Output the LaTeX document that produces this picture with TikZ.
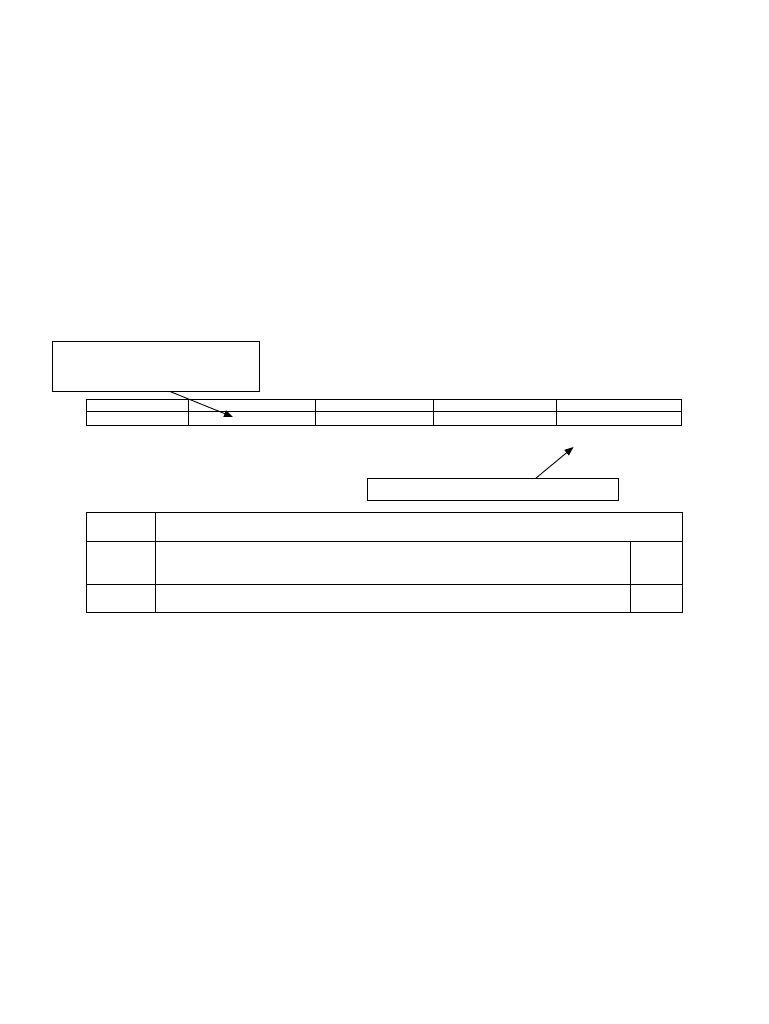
\documentclass[tikz,border=0pt]{standalone}
\usetikzlibrary{fit,arrows.meta}
\begin{document}
\begin{tikzpicture}[x=1pt,y=-1pt,
  cell/.style={draw=black, line width=0.9pt, inner sep=0pt, outer sep=0pt},
  callout/.style={draw=black, line width=0.9pt, -{Triangle[length=9pt,width=7pt]}}]
\useasboundingbox (0,0) rectangle (768,1024);
% callout box 1
\node[cell, fit={(52,341.5) (259,391.5)}] (b1) {};
% table 1
\node[cell, fit={(86,399.3) (188.3,411.7)}] (t11) {};
\node[cell, fit={(188.3,399.3) (315.7,411.7)}] (t12) {};
\node[cell, fit={(315.7,399.3) (433.3,411.7)}] (t13) {};
\node[cell, fit={(433.3,399.3) (556.7,411.7)}] (t14) {};
\node[cell, fit={(556.7,399.3) (681.7,411.7)}] (t15) {};
\node[cell, fit={(86,411.7) (188.3,425)}] (t21) {};
\node[cell, fit={(188.3,411.7) (315.7,425)}] (t22) {};
\node[cell, fit={(315.7,411.7) (433.3,425)}] (t23) {};
\node[cell, fit={(433.3,411.7) (556.7,425)}] (t24) {};
\node[cell, fit={(556.7,411.7) (681.7,425)}] (t25) {};
% callout box 2
\node[cell, fit={(367.3,478.3) (618.3,500)}] (b2) {};
% table 2
\node[cell, fit={(86.3,512.3) (155.7,541)}] (ca) {};
\node[cell, fit={(155.7,512.3) (682.3,541)}] (cb) {};
\node[cell, fit={(86.3,541) (155.7,584.3)}] (cc) {};
\node[cell, fit={(155.7,541) (630,584.3)}] (cd) {};
\node[cell, fit={(630,541) (682.3,584.3)}] (ce) {};
\node[cell, fit={(86.3,584.3) (155.7,612.7)}] (cf) {};
\node[cell, fit={(155.7,584.3) (630,612.7)}] (cg) {};
\node[cell, fit={(630,584.3) (682.3,612.7)}] (ch) {};
% connectors
\coordinate (a1s) at (170,391.5);
\coordinate (a1e) at (233,417);
\coordinate (a2s) at (535.7,478.3);
\coordinate (a2e) at (573.5,447);
\draw[callout] (a1s) -- (a1e);
\draw[callout] (a2s) -- (a2e);
\end{tikzpicture}
\end{document}
